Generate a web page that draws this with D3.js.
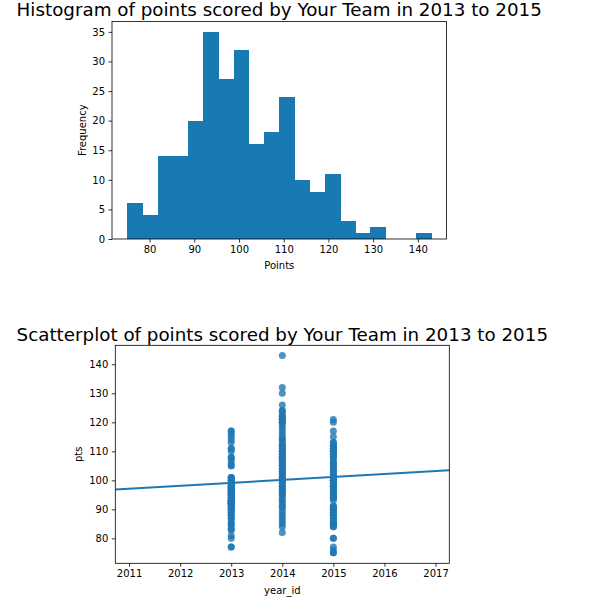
<!DOCTYPE html>
<html><head><meta charset="utf-8">
<script src="https://cdn.jsdelivr.net/npm/d3@7"></script>
<style>
body{margin:0;background:#fff;}
text{font-family:"DejaVu Sans",sans-serif;fill:#000;}
</style></head>
<body><svg id="c" width="597" height="601"></svg>
<script>
// ---------- DATA ----------
const histTitle = "Histogram of points scored by Your Team in 2013 to 2015";
const scatTitle = "Scatterplot of points scored by Your Team in 2013 to 2015";
const binMin = 75, binMax = 143;
const histCounts = [6,4,14,14,20,35,27,32,16,18,24,10,8,11,3,1,2,0,0,1];
const histXTicks = [80,90,100,110,120,130,140];
const histYTicks = [0,5,10,15,20,25,30,35];

const years = [2013, 2014, 2015];
const pts2013 = [77,77,80,81,83,83,84,85,85,86,87,87,88,88,89,89,90,90,90,91,91,91,
  92,92,92,92,92,92,92,93,93,93,93,93,93,94,94,94,94,95,95,95,95,
  96,96,96,96,96,97,97,97,97,97,98,98,98,98,
  99,99,99,99,100,100,100,101,101,101,
  105,105,106,107,108,108,110,111,111,113,114,115,116,117,117];
const pts2014 = [82,84,85,86,87,88,89,90,91,91,92,93,93,94,95,95,96,96,97,97,98,98,
  99,99,100,100,100,101,101,101,102,102,103,103,103,104,104,105,105,105,
  106,106,107,107,107,108,108,108,109,109,110,110,110,111,111,112,112,112,
  113,114,114,115,116,117,118,119,120,120,120,121,121,121,122,122,122,
  123,124,124,126,130,132,143];
const pts2015 = [75,75,76,77,80,80,84,84,85,85,85,85,86,86,87,87,88,88,
  89,89,90,90,90,91,91,91,93,94,94,94,94,95,95,95,
  96,96,97,97,98,98,98,99,99,100,100,100,100,101,101,101,101,102,102,
  103,103,104,104,105,105,106,106,106,107,108,108,
  109,109,110,110,110,111,111,111,112,112,112,113,113,115,117,120,121];
const scatXTicks = [2011,2012,2013,2014,2015,2016,2017];
const scatYTicks = [80,90,100,110,120,130,140];

// ---------- DRAW ----------
const svg = d3.select("#c");
const blue = "#1f77b4";
const barBlue = "#1879b3";

function styleAxis(g){
  g.select(".domain").remove();
  g.selectAll(".tick line").attr("stroke","#000").attr("stroke-width",0.8);
  g.selectAll(".tick text").attr("font-size","10px").attr("fill","#000").attr("font-family","DejaVu Sans");
}

// Histogram
const H = {l:112, r:446.5, t:21.5, b:239};
const binW = (binMax-binMin)/histCounts.length;
const hx = d3.scaleLinear().domain([binMin-0.05*(binMax-binMin), binMax+0.05*(binMax-binMin)]).range([H.l,H.r]);
const hy = d3.scaleLinear().domain([0, d3.max(histCounts)*1.05]).range([H.b,H.t]);
const bins = histCounts.map((c,i)=>({x0:binMin+i*binW, x1:binMin+(i+1)*binW, c}));
svg.append("g").selectAll("rect").data(bins.filter(d=>d.c>0)).join("rect")
  .attr("x",d=>hx(d.x0)).attr("width",d=>hx(d.x1)-hx(d.x0)+0.6)
  .attr("y",d=>hy(d.c)).attr("height",d=>hy(0)-hy(d.c))
  .attr("fill",barBlue).attr("shape-rendering","crispEdges");
svg.append("rect").attr("x",H.l).attr("y",H.t).attr("width",H.r-H.l).attr("height",H.b-H.t)
  .attr("fill","none").attr("stroke","#000").attr("stroke-width",0.8);
svg.append("g").attr("transform",`translate(0,${H.b})`)
  .call(d3.axisBottom(hx).tickValues(histXTicks).tickSize(3.5).tickPadding(3.5)).call(styleAxis);
svg.append("g").attr("transform",`translate(${H.l},0)`)
  .call(d3.axisLeft(hy).tickValues(histYTicks).tickSize(3.5).tickPadding(3.5)).call(styleAxis);
svg.append("text").attr("x",(H.l+H.r)/2).attr("y",15.5).attr("text-anchor","middle")
  .attr("font-size","18.3px").text(histTitle);
svg.append("text").attr("x",(H.l+H.r)/2).attr("y",269).attr("text-anchor","middle")
  .attr("font-size","10px").text("Points");
svg.append("text").attr("transform",`translate(86,${(H.t+H.b)/2}) rotate(-90)`).attr("text-anchor","middle")
  .attr("font-size","10px").text("Frequency");

// Scatter
const S = {l:115.3, r:449.3, t:345.3, b:563.3};
const sx = d3.scaleLinear().domain([2010.73, 2017.27]).range([S.l,S.r]);
const sy = d3.scaleLinear().domain([71.4, 146.55]).range([S.b,S.t]);
const series = [pts2013, pts2014, pts2015];
const pts = [];
series.forEach((arr,i)=>arr.forEach(v=>pts.push({x:years[i], y:v})));
svg.append("clipPath").attr("id","sclip").append("rect")
  .attr("x",S.l).attr("y",S.t).attr("width",S.r-S.l).attr("height",S.b-S.t);
svg.append("g").selectAll("circle").data(pts).join("circle")
  .attr("cx",d=>sx(d.x)).attr("cy",d=>sy(d.y)).attr("r",3.5)
  .attr("fill",blue).attr("fill-opacity",0.8);
// least-squares fit
const mx = d3.mean(pts,d=>d.x), my = d3.mean(pts,d=>d.y);
const slope = d3.sum(pts,d=>(d.x-mx)*(d.y-my))/d3.sum(pts,d=>(d.x-mx)**2);
const fit = x => my + slope*(x-mx);
const [dx0,dx1] = sx.domain();
svg.append("line").attr("clip-path","url(#sclip)")
  .attr("x1",sx(dx0)).attr("x2",sx(dx1)).attr("y1",sy(fit(dx0))).attr("y2",sy(fit(dx1)))
  .attr("stroke",blue).attr("stroke-width",2);
svg.append("rect").attr("x",S.l).attr("y",S.t).attr("width",S.r-S.l).attr("height",S.b-S.t)
  .attr("fill","none").attr("stroke","#000").attr("stroke-width",0.8);
svg.append("g").attr("transform",`translate(0,${S.b})`)
  .call(d3.axisBottom(sx).tickValues(scatXTicks).tickFormat(d3.format("d")).tickSize(3.5).tickPadding(3.5)).call(styleAxis);
svg.append("g").attr("transform",`translate(${S.l},0)`)
  .call(d3.axisLeft(sy).tickValues(scatYTicks).tickSize(3.5).tickPadding(3.5)).call(styleAxis);
svg.append("text").attr("x",(S.l+S.r)/2).attr("y",340.5).attr("text-anchor","middle")
  .attr("font-size","18.3px").text(scatTitle);
svg.append("text").attr("x",(S.l+S.r)/2).attr("y",593.5).attr("text-anchor","middle")
  .attr("font-size","10px").text("year_id");
svg.append("text").attr("transform",`translate(82,${(S.t+S.b)/2}) rotate(-90)`).attr("text-anchor","middle")
  .attr("font-size","10px").text("pts");
</script></body></html>
